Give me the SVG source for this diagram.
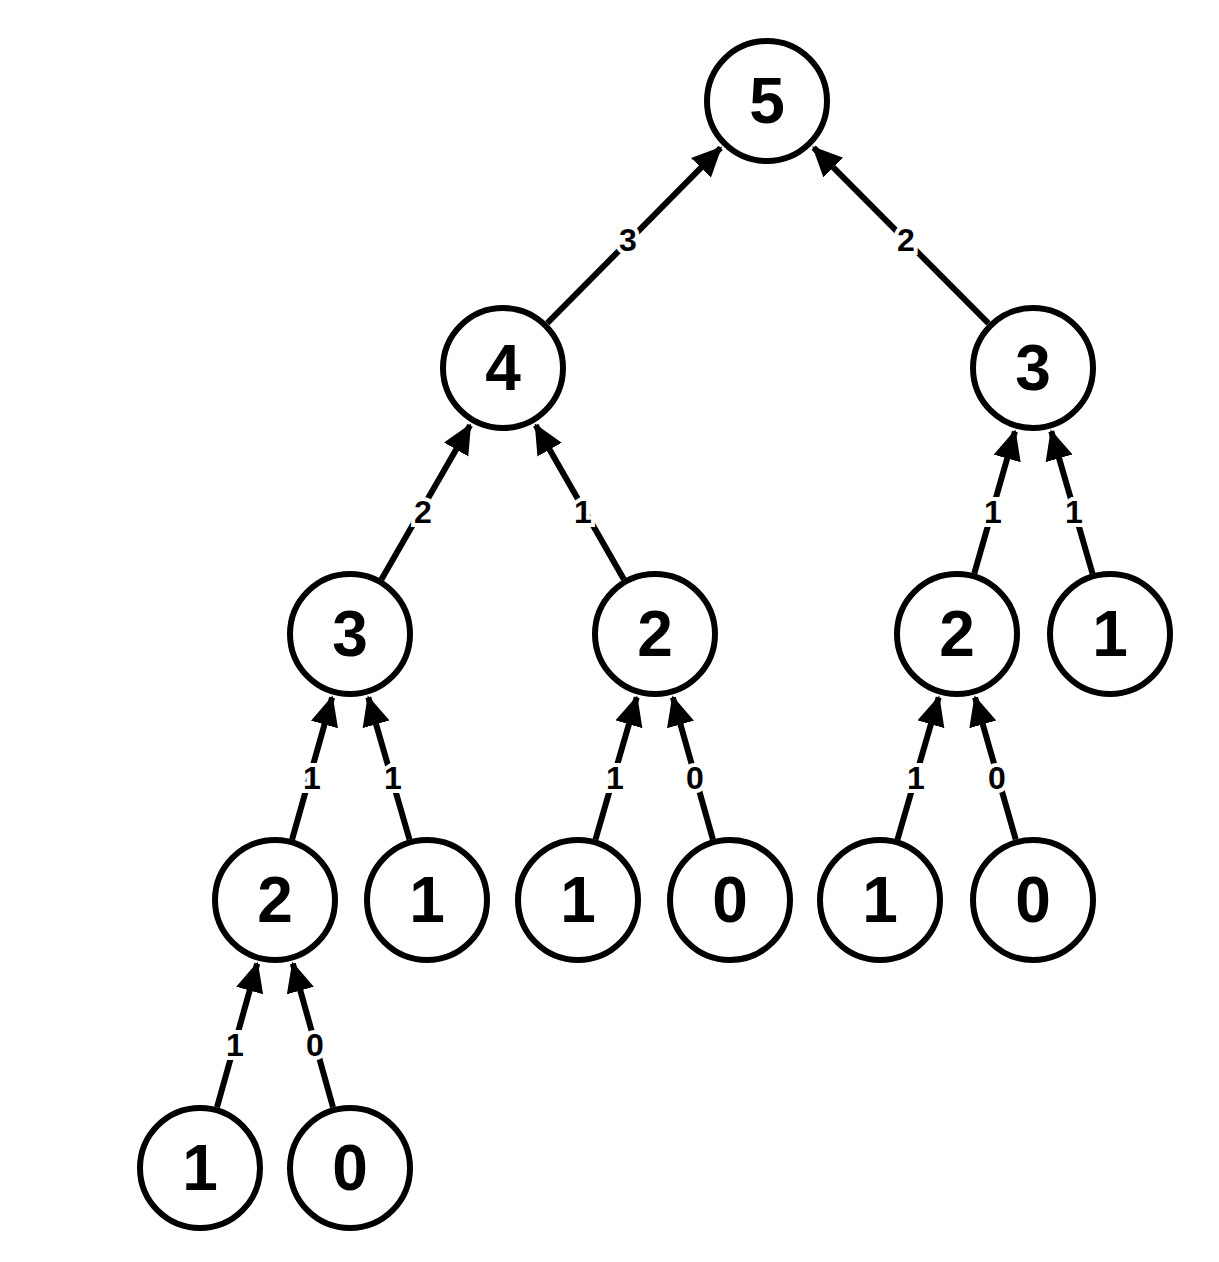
<svg xmlns="http://www.w3.org/2000/svg" width="1219" height="1262" viewBox="0 0 1219 1262">
<style>
.n circle{fill:#fff;stroke:#000;stroke-width:6}
.n text{font-family:"Liberation Sans",Arial,sans-serif;font-weight:bold;font-size:64px;text-anchor:middle;dominant-baseline:central;fill:#000}
#edges line{stroke:#000;stroke-width:6;marker-end:url(#ah)}
#edges text{font-family:"Liberation Sans",Arial,sans-serif;font-weight:bold;font-size:32px;text-anchor:middle;dominant-baseline:central;fill:#000;stroke:#fff;stroke-width:8;paint-order:stroke}
</style>
<defs><marker id="ah" markerUnits="userSpaceOnUse" markerWidth="32" markerHeight="30" refX="28" refY="14" orient="auto"><path d="M0,0 L30,14 L0,28 z" fill="#000"/></marker></defs>
<rect width="1219" height="1262" fill="#fff"/>
<g id="edges">
<line x1="547.3" y1="323.2" x2="720.6" y2="147.9"/>
<line x1="988.5" y1="323.4" x2="813.6" y2="147.7"/>
<line x1="381.4" y1="579.4" x2="470.1" y2="425.2"/>
<line x1="623.8" y1="579.3" x2="535.7" y2="425.3"/>
<line x1="974.3" y1="573.4" x2="1014.9" y2="431.5"/>
<line x1="1092.5" y1="573.5" x2="1051.3" y2="431.4"/>
<line x1="292.1" y1="839.4" x2="332.1" y2="697.5"/>
<line x1="409.5" y1="839.5" x2="368.3" y2="697.4"/>
<line x1="595.5" y1="839.5" x2="636.7" y2="697.4"/>
<line x1="712.9" y1="839.4" x2="672.9" y2="697.5"/>
<line x1="897.5" y1="839.5" x2="938.7" y2="697.4"/>
<line x1="1015.7" y1="839.4" x2="975.1" y2="697.5"/>
<line x1="217" y1="1107.3" x2="257.2" y2="963.6"/>
<line x1="333" y1="1107.3" x2="292.8" y2="963.6"/>
<text x="628" y="240">3</text><text x="906" y="240">2</text>
<text x="423" y="512">2</text><text x="583" y="512">1</text>
<text x="993" y="512">1</text><text x="1074" y="512">1</text>
<text x="312" y="778">1</text><text x="393" y="778">1</text>
<text x="615" y="778">1</text><text x="695" y="778">0</text>
<text x="916" y="778">1</text><text x="997" y="778">0</text>
<text x="235" y="1045">1</text><text x="315" y="1045">0</text>
</g>
<g id="n5" class="n"><circle cx="767" cy="101" r="60"/><text x="767" y="101">5</text></g>
<g id="n4" class="n"><circle cx="503" cy="368" r="60"/><text x="503" y="368">4</text></g>
<g id="n3r" class="n"><circle cx="1033" cy="368" r="60"/><text x="1033" y="368">3</text></g>
<g id="n3l" class="n"><circle cx="350" cy="634" r="60"/><text x="350" y="634">3</text></g>
<g id="n2m" class="n"><circle cx="655" cy="634" r="60"/><text x="655" y="634">2</text></g>
<g id="n2r" class="n"><circle cx="957" cy="634" r="60"/><text x="957" y="634">2</text></g>
<g id="n1r" class="n"><circle cx="1110" cy="634" r="60"/><text x="1110" y="634">1</text></g>
<g id="n2a" class="n"><circle cx="275" cy="900" r="60"/><text x="275" y="900">2</text></g>
<g id="n1a" class="n"><circle cx="427" cy="900" r="60"/><text x="427" y="900">1</text></g>
<g id="n1b" class="n"><circle cx="578" cy="900" r="60"/><text x="578" y="900">1</text></g>
<g id="n0b" class="n"><circle cx="730" cy="900" r="60"/><text x="730" y="900">0</text></g>
<g id="n1c" class="n"><circle cx="880" cy="900" r="60"/><text x="880" y="900">1</text></g>
<g id="n0c" class="n"><circle cx="1033" cy="900" r="60"/><text x="1033" y="900">0</text></g>
<g id="n1d" class="n"><circle cx="200" cy="1168" r="60"/><text x="200" y="1168">1</text></g>
<g id="n0d" class="n"><circle cx="350" cy="1168" r="60"/><text x="350" y="1168">0</text></g>
</svg>
